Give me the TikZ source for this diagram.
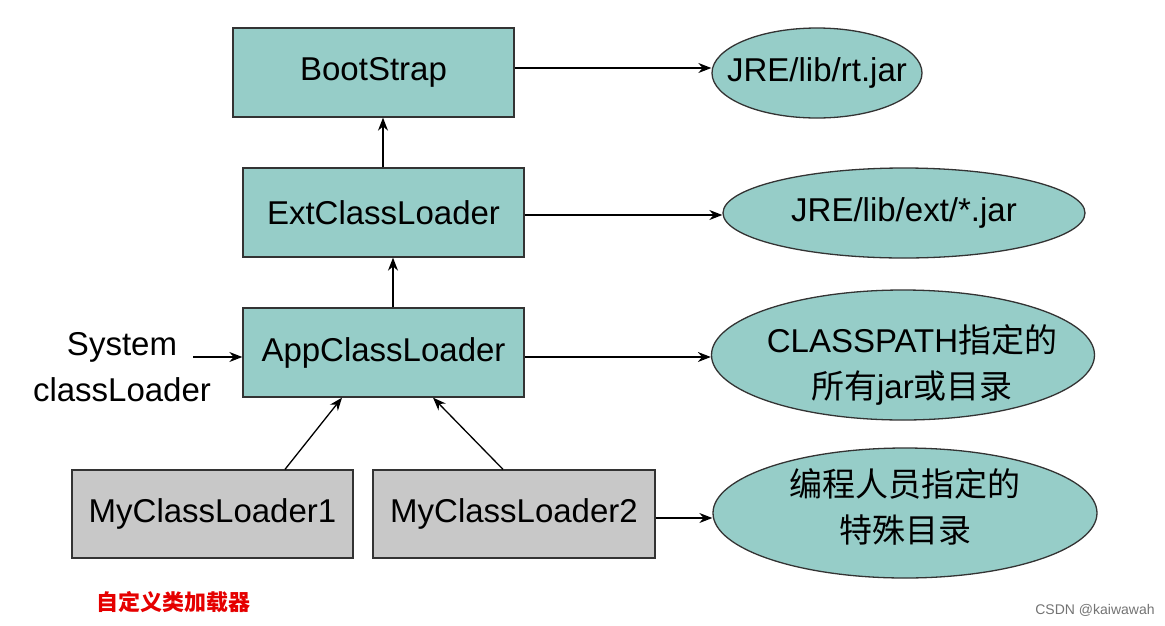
\documentclass[tikz,border=0pt]{standalone}
\usepackage{fontspec}
\setmainfont{Liberation Sans}
\newfontfamily\cjk{Noto Sans CJK SC}
\usetikzlibrary{shapes.geometric,arrows.meta}
\definecolor{teal1}{RGB}{150,205,200}
\definecolor{grey1}{RGB}{200,200,200}
\begin{document}
\begin{tikzpicture}[x=1pt,y=-1pt,
  box/.style={draw=black!80,line width=1.3pt,fill=teal1,inner sep=0pt,font=\fontsize{33}{36}\selectfont},
  mybox/.style={box,fill=grey1},
  lib/.style={draw=black!80,line width=1.3pt,fill=teal1,ellipse,inner sep=0pt},
  libtext/.style={align=center,inner sep=0pt,font=\fontsize{33}{46}\selectfont},
  arr/.style={-{Stealth[length=13pt,width=10pt]},line width=1.3pt}]
\useasboundingbox (0,0) rectangle (1165,625);
\node[box,minimum width=281pt,minimum height=89pt] (boot) at (373.5,72.5) {BootStrap};
\node[box,minimum width=281pt,minimum height=89pt] (ext) at (383.5,212.5) {ExtClassLoader};
\node[box,minimum width=281pt,minimum height=89pt] (app) at (383.5,352.5) {AppClassLoader};
\node[mybox,minimum width=281pt,minimum height=88pt] (my1) at (212.5,514) {MyClassLoader1};
\node[mybox,minimum width=282pt,minimum height=88pt] (my2) at (514,514) {MyClassLoader2};
\node[lib,minimum width=210pt,minimum height=90pt] (e1) at (817,73) {};
\node[lib,minimum width=362pt,minimum height=90pt] (e2) at (904,213) {};
\node[lib,minimum width=383pt,minimum height=130pt] (e3) at (903,355) {};
\node[lib,minimum width=384pt,minimum height=130pt] (e4) at (905,513) {};
\node[libtext] (t1) at (e1) {JRE/lib/rt.jar};
\node[libtext] (t2) at (e2) {JRE/lib/ext/*.jar};
\node[libtext] (t3) at (912,365) {CLASSPATH{\cjk 指定的}\\{\cjk 所有}jar{\cjk 或目录}};
\node[libtext,font=\cjk\fontsize{33}{46}\selectfont] (t4) at (905,507) {编程人员指定的\\特殊目录};
\node[align=center,font=\fontsize{33}{46}\selectfont,inner sep=0pt] (sys) at (122,367) {System\\classLoader};
\node[font=\cjk\bfseries\fontsize{22}{24}\selectfont,text=red!90!black] (red) at (173,602) {自定义类加载器};
\node[font=\fontsize{14}{16}\selectfont,text=black!55] (csdn) at (1095,610) {CSDN @kaiwawah};
\coordinate (sysend) at (193,357);
\draw[arr] (boot.east |- 0,68) -- (e1.west |- 0,68);
\draw[arr] (ext.east |- 0,215) -- (e2.west |- 0,215);
\draw[arr] (app.east |- 0,357) -- (e3.west |- 0,357);
\draw[arr] (my2.east |- 0,518) -- (e4.west |- 0,518);
\draw[arr] (ext.north -| 383,0) -- (boot.south -| 383,0);
\draw[arr] (app.north -| 393,0) -- (ext.south -| 393,0);
\draw[arr] (my1.north -| 285,0) -- (app.south -| 342,0);
\draw[arr] (my2.north -| 503,0) -- (app.south -| 433,0);
\draw[arr] (sysend) -- (app.west |- 0,357);
\end{tikzpicture}
\end{document}
